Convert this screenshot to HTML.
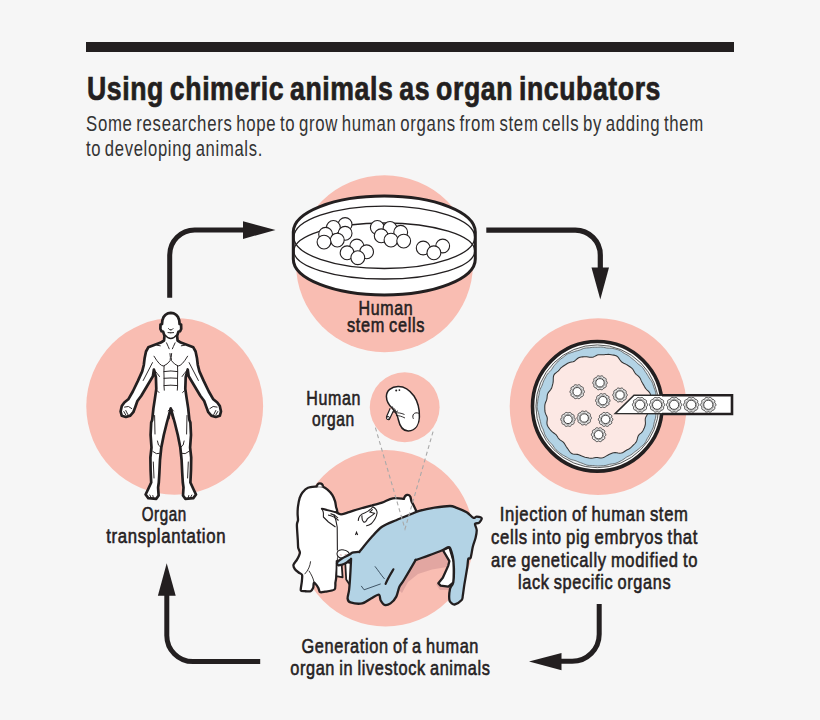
<!DOCTYPE html>
<html><head><meta charset="utf-8"><style>
html,body{margin:0;padding:0;background:#f6f6f6;width:820px;height:720px;overflow:hidden}
svg{display:block}
</style></head><body>
<svg width="820" height="720" viewBox="0 0 820 720"><rect x="86" y="42" width="648" height="10" fill="#231f20"/>
<text x="87" y="99.5" font-family="Liberation Sans" font-weight="bold" font-size="32.5" letter-spacing="0.7" word-spacing="-2.5" fill="#231f20" stroke="#231f20" stroke-width="0.7" textLength="574" lengthAdjust="spacingAndGlyphs">Using chimeric animals as organ incubators</text>
<text x="86" y="130.8" font-family="Liberation Sans" font-size="21.5" letter-spacing="0.9" word-spacing="-2.2" fill="#333" textLength="618" lengthAdjust="spacingAndGlyphs">Some researchers hope to grow human organs from stem cells by adding them</text>
<text x="86" y="156.4" font-family="Liberation Sans" font-size="21.5" letter-spacing="0.9" word-spacing="-2.2" fill="#333" textLength="177" lengthAdjust="spacingAndGlyphs">to developing animals.</text>
<circle cx="384.5" cy="263.7" r="88.5" fill="#f9bdb2"/>
<circle cx="174.7" cy="406.3" r="88.4" fill="#f9bdb2"/>
<circle cx="598.1" cy="406.6" r="88.4" fill="#f9bdb2"/>
<circle cx="404.7" cy="407.25" r="34.9" fill="#f9bdb2"/>
<circle cx="385.5" cy="538.3" r="88.2" fill="#f9bdb2"/>
<path d="M169.7,297.7 V254.9 A25,25 0 0 1 194.7,229.9 H246" fill="none" stroke="#231f20" stroke-width="5"/>
<path d="M243,221.3 L275.5,230 L243,238.9Z" fill="#231f20"/>
<path d="M486.3,230.1 H575.3 A25,25 0 0 1 600.3,255.1 V270" fill="none" stroke="#231f20" stroke-width="5.2"/>
<path d="M591.5,267.6 L609,267.6 L600.3,299.6Z" fill="#231f20"/>
<path d="M599.2,603.9 V634.3 A27,27 0 0 1 572.2,661.3 H558" fill="none" stroke="#231f20" stroke-width="5"/>
<path d="M561.5,652.9 L561.5,670.2 L529,661.5Z" fill="#231f20"/>
<path d="M260.2,661.6 H193 A26.2,26.2 0 0 1 166.8,635.4 V592" fill="none" stroke="#231f20" stroke-width="5"/>
<path d="M157.9,595.7 L175.7,595.7 L166.7,563.3Z" fill="#231f20"/>
<path d="M293.3,232 A91,36 0 0 1 475.3,232 V259 A91,36 0 0 1 293.3,259Z" fill="#fff" stroke="#231f20" stroke-width="3"/>
<ellipse cx="384.3" cy="237.3" rx="90.4" ry="31.2" fill="none" stroke="#231f20" stroke-width="1.3"/>
<ellipse cx="384.3" cy="251" rx="90.4" ry="28" fill="none" stroke="#231f20" stroke-width="1.3"/>
<circle cx="345.1" cy="224.5" r="6.9" fill="#fff" stroke="#231f20" stroke-width="1.1"/>
<circle cx="333.4" cy="227.4" r="6.9" fill="#fff" stroke="#231f20" stroke-width="1.1"/>
<circle cx="345.1" cy="233.3" r="6.9" fill="#fff" stroke="#231f20" stroke-width="1.1"/>
<circle cx="325.6" cy="234.3" r="6.9" fill="#fff" stroke="#231f20" stroke-width="1.1"/>
<circle cx="337.3" cy="240.1" r="6.9" fill="#fff" stroke="#231f20" stroke-width="1.1"/>
<circle cx="324" cy="242.1" r="6.9" fill="#fff" stroke="#231f20" stroke-width="1.1"/>
<circle cx="356.8" cy="246" r="6.9" fill="#fff" stroke="#231f20" stroke-width="1.1"/>
<circle cx="366.6" cy="251.8" r="6.9" fill="#fff" stroke="#231f20" stroke-width="1.1"/>
<circle cx="347.1" cy="252.8" r="6.9" fill="#fff" stroke="#231f20" stroke-width="1.1"/>
<circle cx="357.8" cy="257.7" r="6.9" fill="#fff" stroke="#231f20" stroke-width="1.1"/>
<circle cx="377.3" cy="227.4" r="6.9" fill="#fff" stroke="#231f20" stroke-width="1.1"/>
<circle cx="390" cy="228.4" r="6.9" fill="#fff" stroke="#231f20" stroke-width="1.1"/>
<circle cx="400.7" cy="232.3" r="6.9" fill="#fff" stroke="#231f20" stroke-width="1.1"/>
<circle cx="381.2" cy="235.8" r="6.9" fill="#fff" stroke="#231f20" stroke-width="1.1"/>
<circle cx="391" cy="240.1" r="6.9" fill="#fff" stroke="#231f20" stroke-width="1.1"/>
<circle cx="403.7" cy="241.1" r="6.9" fill="#fff" stroke="#231f20" stroke-width="1.1"/>
<circle cx="442.7" cy="246" r="6.9" fill="#fff" stroke="#231f20" stroke-width="1.1"/>
<circle cx="423.2" cy="248" r="6.9" fill="#fff" stroke="#231f20" stroke-width="1.1"/>
<circle cx="433.9" cy="252.8" r="6.9" fill="#fff" stroke="#231f20" stroke-width="1.1"/>
<text x="358.6" y="314.6" font-family="Liberation Sans" font-size="19.9" letter-spacing="0.8" word-spacing="-1.2" fill="#252122" stroke="#252122" stroke-width="0.6" textLength="54.7" lengthAdjust="spacingAndGlyphs">Human</text>
<text x="347" y="331.6" font-family="Liberation Sans" font-size="19.9" letter-spacing="0.8" word-spacing="-1.2" fill="#252122" stroke="#252122" stroke-width="0.6" textLength="78.0" lengthAdjust="spacingAndGlyphs">stem cells</text>
<text x="141.7" y="520.5" font-family="Liberation Sans" font-size="19.9" letter-spacing="0.8" word-spacing="-1.2" fill="#252122" stroke="#252122" stroke-width="0.6" textLength="45.2" lengthAdjust="spacingAndGlyphs">Organ</text>
<text x="106.3" y="543" font-family="Liberation Sans" font-size="19.9" letter-spacing="0.8" word-spacing="-1.2" fill="#252122" stroke="#252122" stroke-width="0.6" textLength="119.9" lengthAdjust="spacingAndGlyphs">transplantation</text>
<text x="306.3" y="404.8" font-family="Liberation Sans" font-size="19.9" letter-spacing="0.8" word-spacing="-1.2" fill="#252122" stroke="#252122" stroke-width="0.6" textLength="54.8" lengthAdjust="spacingAndGlyphs">Human</text>
<text x="311.9" y="425.9" font-family="Liberation Sans" font-size="19.9" letter-spacing="0.8" word-spacing="-1.2" fill="#252122" stroke="#252122" stroke-width="0.6" textLength="42.9" lengthAdjust="spacingAndGlyphs">organ</text>
<text x="499.7" y="520.8" font-family="Liberation Sans" font-size="20.4" letter-spacing="0.8" word-spacing="-1.2" fill="#252122" stroke="#252122" stroke-width="0.6" textLength="188.9" lengthAdjust="spacingAndGlyphs">Injection of human stem</text>
<text x="491.1" y="543.6" font-family="Liberation Sans" font-size="20.4" letter-spacing="0.8" word-spacing="-1.2" fill="#252122" stroke="#252122" stroke-width="0.6" textLength="207.0" lengthAdjust="spacingAndGlyphs">cells into pig embryos that</text>
<text x="491.1" y="566.5" font-family="Liberation Sans" font-size="20.4" letter-spacing="0.8" word-spacing="-1.2" fill="#252122" stroke="#252122" stroke-width="0.6" textLength="207.0" lengthAdjust="spacingAndGlyphs">are genetically modified to</text>
<text x="518" y="589.3" font-family="Liberation Sans" font-size="20.4" letter-spacing="0.8" word-spacing="-1.2" fill="#252122" stroke="#252122" stroke-width="0.6" textLength="153.2" lengthAdjust="spacingAndGlyphs">lack specific organs</text>
<text x="301.5" y="652.6" font-family="Liberation Sans" font-size="20.4" letter-spacing="0.8" word-spacing="-1.2" fill="#252122" stroke="#252122" stroke-width="0.6" textLength="177.6" lengthAdjust="spacingAndGlyphs">Generation of a human</text>
<text x="290.2" y="674.6" font-family="Liberation Sans" font-size="20.4" letter-spacing="0.8" word-spacing="-1.2" fill="#252122" stroke="#252122" stroke-width="0.6" textLength="200.4" lengthAdjust="spacingAndGlyphs">organ in livestock animals</text>
<circle cx="597.3" cy="406.3" r="64.8" fill="#fff" stroke="#231f20" stroke-width="3.6"/>
<circle cx="597.3" cy="406.3" r="61.4" fill="#e9eef1" stroke="#333" stroke-width="0.8"/>
<path d="M655.95,406.30 L656.07,407.84 L656.16,409.38 L656.13,410.93 L656.01,412.47 L655.90,414.01 L655.81,415.57 L655.65,417.11 L655.34,418.64 L654.89,420.13 L654.42,421.60 L654.06,423.11 L653.80,424.66 L653.52,426.21 L653.07,427.71 L652.42,429.13 L651.68,430.51 L650.97,431.90 L650.29,433.30 L649.59,434.69 L648.80,436.03 L647.97,437.35 L647.18,438.69 L646.48,440.10 L645.81,441.55 L645.03,442.92 L644.04,444.15 L642.88,445.23 L641.66,446.25 L640.49,447.28 L639.34,448.34 L638.17,449.36 L636.92,450.30 L635.64,451.20 L634.41,452.12 L633.22,453.11 L632.03,454.10 L630.76,454.98 L629.38,455.70 L627.97,456.35 L626.61,457.07 L625.33,457.92 L624.08,458.87 L622.80,459.77 L621.46,460.56 L620.07,461.27 L618.67,461.97 L617.26,462.66 L615.80,463.24 L614.28,463.63 L612.72,463.85 L611.16,464.03 L609.63,464.32 L608.13,464.75 L606.63,465.20 L605.10,465.53 L603.54,465.70 L601.98,465.79 L600.42,465.89 L598.86,466.00 L597.30,466.03 L595.74,465.92 L594.19,465.70 L592.64,465.52 L591.08,465.46 L589.51,465.45 L587.95,465.32 L586.43,464.96 L584.95,464.41 L583.50,463.79 L582.05,463.22 L580.59,462.71 L579.14,462.18 L577.72,461.58 L576.31,460.99 L574.85,460.49 L573.34,460.12 L571.80,459.76 L570.32,459.25 L568.93,458.54 L567.61,457.72 L566.29,456.90 L564.92,456.16 L563.53,455.44 L562.17,454.65 L560.90,453.74 L559.67,452.77 L558.44,451.80 L557.19,450.84 L556.02,449.80 L554.98,448.62 L554.09,447.31 L553.22,445.99 L552.28,444.75 L551.21,443.62 L550.11,442.51 L549.09,441.33 L548.17,440.06 L547.32,438.76 L546.46,437.45 L545.63,436.13 L544.91,434.74 L544.36,433.27 L543.93,431.76 L543.47,430.27 L542.89,428.84 L542.20,427.45 L541.57,426.04 L541.09,424.57 L540.74,423.05 L540.43,421.54 L540.06,420.04 L539.65,418.55 L539.29,417.05 L539.01,415.53 L538.75,414.01 L538.40,412.49 L537.92,410.97 L537.46,409.44 L537.17,407.87 L537.15,406.30 L537.32,404.73 L537.53,403.17 L537.69,401.61 L537.86,400.05 L538.11,398.51 L538.47,396.98 L538.84,395.47 L539.14,393.94 L539.37,392.39 L539.67,390.86 L540.15,389.37 L540.82,387.95 L541.53,386.55 L542.16,385.13 L542.66,383.67 L543.16,382.19 L543.74,380.75 L544.44,379.37 L545.18,378.00 L545.92,376.63 L546.67,375.28 L547.54,373.99 L548.58,372.81 L549.70,371.72 L550.78,370.60 L551.71,369.38 L552.54,368.07 L553.38,366.75 L554.31,365.51 L555.34,364.34 L556.39,363.19 L557.43,362.02 L558.49,360.86 L559.64,359.80 L560.90,358.86 L562.20,357.99 L563.47,357.07 L564.68,356.06 L565.90,355.05 L567.21,354.18 L568.64,353.52 L570.15,353.02 L571.66,352.54 L573.14,352.03 L574.61,351.51 L576.09,351.06 L577.60,350.67 L579.09,350.26 L580.54,349.73 L581.97,349.10 L583.43,348.51 L584.93,348.12 L586.48,347.94 L588.04,347.87 L589.59,347.75 L591.13,347.55 L592.66,347.35 L594.21,347.25 L595.75,347.24 L597.30,347.23 L598.85,347.16 L600.40,347.07 L601.96,347.09 L603.50,347.31 L605.02,347.66 L606.54,347.98 L608.08,348.15 L609.65,348.20 L611.23,348.27 L612.79,348.47 L614.33,348.80 L615.86,349.19 L617.38,349.59 L618.88,350.08 L620.31,350.74 L621.66,351.59 L622.95,352.53 L624.25,353.40 L625.62,354.14 L627.01,354.83 L628.36,355.61 L629.62,356.53 L630.81,357.54 L632.00,358.53 L633.22,359.49 L634.44,360.44 L635.59,361.47 L636.69,362.56 L637.79,363.63 L638.99,364.61 L640.26,365.53 L641.51,366.49 L642.61,367.60 L643.54,368.86 L644.36,370.19 L645.20,371.50 L646.08,372.77 L646.95,374.06 L647.76,375.38 L648.52,376.73 L649.32,378.06 L650.21,379.34 L651.16,380.61 L652.00,381.95 L652.64,383.38 L653.11,384.87 L653.55,386.38 L654.07,387.85 L654.65,389.31 L655.18,390.79 L655.58,392.31 L655.85,393.85 L656.10,395.40 L656.35,396.95 L656.54,398.50 L656.55,400.07 L656.36,401.65 L656.09,403.22 L655.93,404.76 L655.95,406.30Z" fill="#b3d3e5" stroke="#444" stroke-width="0.7"/>
<path d="M648.76,406.30 L648.42,407.64 L648.19,408.97 L648.07,410.30 L647.98,411.63 L647.77,412.95 L647.35,414.23 L646.73,415.46 L646.05,416.66 L645.52,417.88 L645.25,419.15 L645.25,420.50 L645.37,421.92 L645.43,423.34 L645.31,424.73 L644.99,426.05 L644.53,427.33 L644.02,428.58 L643.45,429.82 L642.78,430.99 L641.94,432.07 L640.94,433.04 L639.88,433.95 L638.92,434.90 L638.19,436.01 L637.70,437.30 L637.36,438.74 L636.98,440.19 L636.43,441.54 L635.67,442.72 L634.75,443.75 L633.77,444.73 L632.79,445.71 L631.81,446.71 L630.78,447.65 L629.66,448.47 L628.45,449.18 L627.21,449.82 L626.00,450.49 L624.84,451.24 L623.69,452.01 L622.48,452.68 L621.14,453.08 L619.65,453.16 L618.08,452.98 L616.53,452.73 L615.08,452.61 L613.74,452.73 L612.50,453.08 L611.30,453.56 L610.10,454.08 L608.90,454.60 L607.69,455.18 L606.49,455.86 L605.27,456.62 L604.02,457.33 L602.72,457.83 L601.37,458.02 L600.01,457.92 L598.65,457.69 L597.30,457.52 L595.96,457.56 L594.60,457.80 L593.22,458.09 L591.84,458.28 L590.46,458.26 L589.10,458.04 L587.77,457.73 L586.43,457.43 L585.10,457.14 L583.77,456.80 L582.47,456.35 L581.22,455.78 L579.99,455.18 L578.73,454.68 L577.38,454.39 L575.93,454.30 L574.43,454.24 L572.98,454.02 L571.68,453.49 L570.56,452.61 L569.61,451.48 L568.75,450.26 L567.92,449.04 L567.10,447.87 L566.30,446.70 L565.56,445.50 L564.85,444.29 L564.12,443.15 L563.27,442.15 L562.26,441.34 L561.13,440.62 L560.00,439.88 L559.00,439.01 L558.18,437.97 L557.50,436.84 L556.82,435.71 L556.00,434.69 L554.97,433.79 L553.81,432.95 L552.62,432.10 L551.52,431.16 L550.55,430.12 L549.68,429.01 L548.85,427.87 L548.08,426.69 L547.43,425.44 L547.04,424.10 L546.94,422.66 L547.08,421.17 L547.27,419.70 L547.30,418.30 L547.05,416.98 L546.54,415.71 L545.92,414.44 L545.37,413.14 L545.02,411.79 L544.86,410.43 L544.81,409.05 L544.78,407.68 L544.78,406.30 L544.88,404.93 L545.16,403.57 L545.63,402.23 L546.19,400.93 L546.68,399.64 L546.98,398.33 L547.11,397.00 L547.21,395.65 L547.47,394.34 L548.01,393.09 L548.81,391.94 L549.73,390.84 L550.60,389.76 L551.30,388.64 L551.80,387.45 L552.19,386.21 L552.53,384.95 L552.86,383.65 L553.11,382.31 L553.24,380.86 L553.27,379.32 L553.30,377.72 L553.50,376.20 L554.01,374.85 L554.85,373.73 L555.93,372.80 L557.07,371.94 L558.14,371.04 L559.10,370.05 L560.00,369.00 L560.93,367.98 L561.97,367.06 L563.10,366.25 L564.26,365.50 L565.42,364.75 L566.55,363.98 L567.71,363.25 L568.96,362.66 L570.31,362.25 L571.70,361.96 L573.06,361.65 L574.30,361.16 L575.41,360.41 L576.45,359.48 L577.51,358.52 L578.66,357.74 L579.93,357.24 L581.28,356.98 L582.66,356.88 L584.04,356.83 L585.41,356.80 L586.78,356.82 L588.15,356.95 L589.52,357.16 L590.85,357.33 L592.15,357.30 L593.42,356.98 L594.68,356.38 L595.97,355.69 L597.30,355.11 L598.65,354.78 L600.00,354.71 L601.36,354.77 L602.71,354.80 L604.09,354.72 L605.50,354.55 L606.92,354.40 L608.34,354.37 L609.74,354.48 L611.13,354.68 L612.53,354.90 L613.93,355.12 L615.31,355.44 L616.61,356.00 L617.77,356.89 L618.77,358.09 L619.65,359.43 L620.53,360.72 L621.48,361.77 L622.55,362.56 L623.73,363.17 L624.94,363.74 L626.12,364.36 L627.26,365.07 L628.38,365.80 L629.51,366.53 L630.65,367.25 L631.73,368.06 L632.68,369.01 L633.45,370.15 L634.10,371.38 L634.73,372.60 L635.50,373.68 L636.44,374.60 L637.53,375.43 L638.60,376.29 L639.53,377.28 L640.25,378.41 L640.80,379.64 L641.31,380.89 L641.88,382.09 L642.54,383.25 L643.23,384.39 L643.91,385.55 L644.56,386.73 L645.25,387.89 L646.10,389.02 L647.14,390.10 L648.31,391.19 L649.39,392.34 L650.19,393.60 L650.58,394.98 L650.57,396.43 L650.31,397.90 L650.01,399.36 L649.76,400.79 L649.58,402.19 L649.38,403.57 L649.11,404.94 L648.76,406.30Z" fill="#fce8e4" stroke="#333" stroke-width="1.05"/>
<path d="M607.20,382.80 L607.11,383.36 L606.85,383.89 L606.46,384.35 L605.99,384.75 L606.14,385.34 L606.18,385.95 L606.08,386.53 L605.82,387.03 L605.42,387.43 L604.90,387.70 L604.32,387.85 L603.70,387.90 L603.47,388.47 L603.15,388.98 L602.73,389.39 L602.22,389.65 L601.66,389.73 L601.09,389.65 L600.52,389.42 L600.00,389.10 L599.48,389.42 L598.91,389.65 L598.34,389.73 L597.78,389.65 L597.27,389.39 L596.85,388.98 L596.53,388.47 L596.30,387.90 L595.68,387.85 L595.10,387.70 L594.58,387.43 L594.18,387.03 L593.92,386.53 L593.82,385.95 L593.86,385.34 L594.01,384.75 L593.54,384.35 L593.15,383.89 L592.89,383.36 L592.80,382.80 L592.89,382.24 L593.15,381.71 L593.54,381.25 L594.01,380.85 L593.86,380.26 L593.82,379.65 L593.92,379.07 L594.18,378.57 L594.58,378.17 L595.10,377.90 L595.68,377.75 L596.30,377.70 L596.53,377.13 L596.85,376.62 L597.27,376.21 L597.78,375.95 L598.34,375.87 L598.91,375.95 L599.48,376.18 L600.00,376.50 L600.52,376.18 L601.09,375.95 L601.66,375.87 L602.22,375.95 L602.73,376.21 L603.15,376.62 L603.47,377.13 L603.70,377.70 L604.32,377.75 L604.90,377.90 L605.42,378.17 L605.82,378.57 L606.08,379.07 L606.18,379.65 L606.14,380.26 L605.99,380.85 L606.46,381.25 L606.85,381.71 L607.11,382.24 L607.20,382.80Z" fill="#f0f0f0" stroke="#3a3a3a" stroke-width="0.95"/><circle cx="600" cy="382.8" r="5.10" fill="none" stroke="#777" stroke-width="0.6"/><circle cx="600" cy="382.8" r="4.20" fill="#fff" stroke="#3a3a3a" stroke-width="0.95"/>
<path d="M584.40,391.70 L584.31,392.26 L584.05,392.79 L583.66,393.25 L583.19,393.65 L583.34,394.24 L583.38,394.85 L583.28,395.43 L583.02,395.93 L582.62,396.33 L582.10,396.60 L581.52,396.75 L580.90,396.80 L580.67,397.37 L580.35,397.88 L579.93,398.29 L579.42,398.55 L578.86,398.63 L578.29,398.55 L577.72,398.32 L577.20,398.00 L576.68,398.32 L576.11,398.55 L575.54,398.63 L574.98,398.55 L574.47,398.29 L574.05,397.88 L573.73,397.37 L573.50,396.80 L572.88,396.75 L572.30,396.60 L571.78,396.33 L571.38,395.93 L571.12,395.43 L571.02,394.85 L571.06,394.24 L571.21,393.65 L570.74,393.25 L570.35,392.79 L570.09,392.26 L570.00,391.70 L570.09,391.14 L570.35,390.61 L570.74,390.15 L571.21,389.75 L571.06,389.16 L571.02,388.55 L571.12,387.97 L571.38,387.47 L571.78,387.07 L572.30,386.80 L572.88,386.65 L573.50,386.60 L573.73,386.03 L574.05,385.52 L574.47,385.11 L574.98,384.85 L575.54,384.77 L576.11,384.85 L576.68,385.08 L577.20,385.40 L577.72,385.08 L578.29,384.85 L578.86,384.77 L579.42,384.85 L579.93,385.11 L580.35,385.52 L580.67,386.03 L580.90,386.60 L581.52,386.65 L582.10,386.80 L582.62,387.07 L583.02,387.47 L583.28,387.97 L583.38,388.55 L583.34,389.16 L583.19,389.75 L583.66,390.15 L584.05,390.61 L584.31,391.14 L584.40,391.70Z" fill="#f0f0f0" stroke="#3a3a3a" stroke-width="0.95"/><circle cx="577.2" cy="391.7" r="5.10" fill="none" stroke="#777" stroke-width="0.6"/><circle cx="577.2" cy="391.7" r="4.20" fill="#fff" stroke="#3a3a3a" stroke-width="0.95"/>
<path d="M627.20,395.00 L627.11,395.56 L626.85,396.09 L626.46,396.55 L625.99,396.95 L626.14,397.54 L626.18,398.15 L626.08,398.73 L625.82,399.23 L625.42,399.63 L624.90,399.90 L624.32,400.05 L623.70,400.10 L623.47,400.67 L623.15,401.18 L622.73,401.59 L622.22,401.85 L621.66,401.93 L621.09,401.85 L620.52,401.62 L620.00,401.30 L619.48,401.62 L618.91,401.85 L618.34,401.93 L617.78,401.85 L617.27,401.59 L616.85,401.18 L616.53,400.67 L616.30,400.10 L615.68,400.05 L615.10,399.90 L614.58,399.63 L614.18,399.23 L613.92,398.73 L613.82,398.15 L613.86,397.54 L614.01,396.95 L613.54,396.55 L613.15,396.09 L612.89,395.56 L612.80,395.00 L612.89,394.44 L613.15,393.91 L613.54,393.45 L614.01,393.05 L613.86,392.46 L613.82,391.85 L613.92,391.27 L614.18,390.77 L614.58,390.37 L615.10,390.10 L615.68,389.95 L616.30,389.90 L616.53,389.33 L616.85,388.82 L617.27,388.41 L617.78,388.15 L618.34,388.07 L618.91,388.15 L619.48,388.38 L620.00,388.70 L620.52,388.38 L621.09,388.15 L621.66,388.07 L622.22,388.15 L622.73,388.41 L623.15,388.82 L623.47,389.33 L623.70,389.90 L624.32,389.95 L624.90,390.10 L625.42,390.37 L625.82,390.77 L626.08,391.27 L626.18,391.85 L626.14,392.46 L625.99,393.05 L626.46,393.45 L626.85,393.91 L627.11,394.44 L627.20,395.00Z" fill="#f0f0f0" stroke="#3a3a3a" stroke-width="0.95"/><circle cx="620" cy="395" r="5.10" fill="none" stroke="#777" stroke-width="0.6"/><circle cx="620" cy="395" r="4.20" fill="#fff" stroke="#3a3a3a" stroke-width="0.95"/>
<path d="M610.00,400.60 L609.91,401.16 L609.65,401.69 L609.26,402.15 L608.79,402.55 L608.94,403.14 L608.98,403.75 L608.88,404.33 L608.62,404.83 L608.22,405.23 L607.70,405.50 L607.12,405.65 L606.50,405.70 L606.27,406.27 L605.95,406.78 L605.53,407.19 L605.02,407.45 L604.46,407.53 L603.89,407.45 L603.32,407.22 L602.80,406.90 L602.28,407.22 L601.71,407.45 L601.14,407.53 L600.58,407.45 L600.07,407.19 L599.65,406.78 L599.33,406.27 L599.10,405.70 L598.48,405.65 L597.90,405.50 L597.38,405.23 L596.98,404.83 L596.72,404.33 L596.62,403.75 L596.66,403.14 L596.81,402.55 L596.34,402.15 L595.95,401.69 L595.69,401.16 L595.60,400.60 L595.69,400.04 L595.95,399.51 L596.34,399.05 L596.81,398.65 L596.66,398.06 L596.62,397.45 L596.72,396.87 L596.98,396.37 L597.38,395.97 L597.90,395.70 L598.48,395.55 L599.10,395.50 L599.33,394.93 L599.65,394.42 L600.07,394.01 L600.58,393.75 L601.14,393.67 L601.71,393.75 L602.28,393.98 L602.80,394.30 L603.32,393.98 L603.89,393.75 L604.46,393.67 L605.02,393.75 L605.53,394.01 L605.95,394.42 L606.27,394.93 L606.50,395.50 L607.12,395.55 L607.70,395.70 L608.22,395.97 L608.62,396.37 L608.88,396.87 L608.98,397.45 L608.94,398.06 L608.79,398.65 L609.26,399.05 L609.65,399.51 L609.91,400.04 L610.00,400.60Z" fill="#f0f0f0" stroke="#3a3a3a" stroke-width="0.95"/><circle cx="602.8" cy="400.6" r="5.10" fill="none" stroke="#777" stroke-width="0.6"/><circle cx="602.8" cy="400.6" r="4.20" fill="#fff" stroke="#3a3a3a" stroke-width="0.95"/>
<path d="M575.20,419.40 L575.11,419.96 L574.85,420.49 L574.46,420.95 L573.99,421.35 L574.14,421.94 L574.18,422.55 L574.08,423.13 L573.82,423.63 L573.42,424.03 L572.90,424.30 L572.32,424.45 L571.70,424.50 L571.47,425.07 L571.15,425.58 L570.73,425.99 L570.22,426.25 L569.66,426.33 L569.09,426.25 L568.52,426.02 L568.00,425.70 L567.48,426.02 L566.91,426.25 L566.34,426.33 L565.78,426.25 L565.27,425.99 L564.85,425.58 L564.53,425.07 L564.30,424.50 L563.68,424.45 L563.10,424.30 L562.58,424.03 L562.18,423.63 L561.92,423.13 L561.82,422.55 L561.86,421.94 L562.01,421.35 L561.54,420.95 L561.15,420.49 L560.89,419.96 L560.80,419.40 L560.89,418.84 L561.15,418.31 L561.54,417.85 L562.01,417.45 L561.86,416.86 L561.82,416.25 L561.92,415.67 L562.18,415.17 L562.58,414.77 L563.10,414.50 L563.68,414.35 L564.30,414.30 L564.53,413.73 L564.85,413.22 L565.27,412.81 L565.78,412.55 L566.34,412.47 L566.91,412.55 L567.48,412.78 L568.00,413.10 L568.52,412.78 L569.09,412.55 L569.66,412.47 L570.22,412.55 L570.73,412.81 L571.15,413.22 L571.47,413.73 L571.70,414.30 L572.32,414.35 L572.90,414.50 L573.42,414.77 L573.82,415.17 L574.08,415.67 L574.18,416.25 L574.14,416.86 L573.99,417.45 L574.46,417.85 L574.85,418.31 L575.11,418.84 L575.20,419.40Z" fill="#f0f0f0" stroke="#3a3a3a" stroke-width="0.95"/><circle cx="568" cy="419.4" r="5.10" fill="none" stroke="#777" stroke-width="0.6"/><circle cx="568" cy="419.4" r="4.20" fill="#fff" stroke="#3a3a3a" stroke-width="0.95"/>
<path d="M591.40,418.00 L591.31,418.56 L591.05,419.09 L590.66,419.55 L590.19,419.95 L590.34,420.54 L590.38,421.15 L590.28,421.73 L590.02,422.23 L589.62,422.63 L589.10,422.90 L588.52,423.05 L587.90,423.10 L587.67,423.67 L587.35,424.18 L586.93,424.59 L586.42,424.85 L585.86,424.93 L585.29,424.85 L584.72,424.62 L584.20,424.30 L583.68,424.62 L583.11,424.85 L582.54,424.93 L581.98,424.85 L581.47,424.59 L581.05,424.18 L580.73,423.67 L580.50,423.10 L579.88,423.05 L579.30,422.90 L578.78,422.63 L578.38,422.23 L578.12,421.73 L578.02,421.15 L578.06,420.54 L578.21,419.95 L577.74,419.55 L577.35,419.09 L577.09,418.56 L577.00,418.00 L577.09,417.44 L577.35,416.91 L577.74,416.45 L578.21,416.05 L578.06,415.46 L578.02,414.85 L578.12,414.27 L578.38,413.77 L578.78,413.37 L579.30,413.10 L579.88,412.95 L580.50,412.90 L580.73,412.33 L581.05,411.82 L581.47,411.41 L581.98,411.15 L582.54,411.07 L583.11,411.15 L583.68,411.38 L584.20,411.70 L584.72,411.38 L585.29,411.15 L585.86,411.07 L586.42,411.15 L586.93,411.41 L587.35,411.82 L587.67,412.33 L587.90,412.90 L588.52,412.95 L589.10,413.10 L589.62,413.37 L590.02,413.77 L590.28,414.27 L590.38,414.85 L590.34,415.46 L590.19,416.05 L590.66,416.45 L591.05,416.91 L591.31,417.44 L591.40,418.00Z" fill="#f0f0f0" stroke="#3a3a3a" stroke-width="0.95"/><circle cx="584.2" cy="418" r="5.10" fill="none" stroke="#777" stroke-width="0.6"/><circle cx="584.2" cy="418" r="4.20" fill="#fff" stroke="#3a3a3a" stroke-width="0.95"/>
<path d="M612.80,419.40 L612.71,419.96 L612.45,420.49 L612.06,420.95 L611.59,421.35 L611.74,421.94 L611.78,422.55 L611.68,423.13 L611.42,423.63 L611.02,424.03 L610.50,424.30 L609.92,424.45 L609.30,424.50 L609.07,425.07 L608.75,425.58 L608.33,425.99 L607.82,426.25 L607.26,426.33 L606.69,426.25 L606.12,426.02 L605.60,425.70 L605.08,426.02 L604.51,426.25 L603.94,426.33 L603.38,426.25 L602.87,425.99 L602.45,425.58 L602.13,425.07 L601.90,424.50 L601.28,424.45 L600.70,424.30 L600.18,424.03 L599.78,423.63 L599.52,423.13 L599.42,422.55 L599.46,421.94 L599.61,421.35 L599.14,420.95 L598.75,420.49 L598.49,419.96 L598.40,419.40 L598.49,418.84 L598.75,418.31 L599.14,417.85 L599.61,417.45 L599.46,416.86 L599.42,416.25 L599.52,415.67 L599.78,415.17 L600.18,414.77 L600.70,414.50 L601.28,414.35 L601.90,414.30 L602.13,413.73 L602.45,413.22 L602.87,412.81 L603.38,412.55 L603.94,412.47 L604.51,412.55 L605.08,412.78 L605.60,413.10 L606.12,412.78 L606.69,412.55 L607.26,412.47 L607.82,412.55 L608.33,412.81 L608.75,413.22 L609.07,413.73 L609.30,414.30 L609.92,414.35 L610.50,414.50 L611.02,414.77 L611.42,415.17 L611.68,415.67 L611.78,416.25 L611.74,416.86 L611.59,417.45 L612.06,417.85 L612.45,418.31 L612.71,418.84 L612.80,419.40Z" fill="#f0f0f0" stroke="#3a3a3a" stroke-width="0.95"/><circle cx="605.6" cy="419.4" r="5.10" fill="none" stroke="#777" stroke-width="0.6"/><circle cx="605.6" cy="419.4" r="4.20" fill="#fff" stroke="#3a3a3a" stroke-width="0.95"/>
<path d="M605.80,434.70 L605.71,435.26 L605.45,435.79 L605.06,436.25 L604.59,436.65 L604.74,437.24 L604.78,437.85 L604.68,438.43 L604.42,438.93 L604.02,439.33 L603.50,439.60 L602.92,439.75 L602.30,439.80 L602.07,440.37 L601.75,440.88 L601.33,441.29 L600.82,441.55 L600.26,441.63 L599.69,441.55 L599.12,441.32 L598.60,441.00 L598.08,441.32 L597.51,441.55 L596.94,441.63 L596.38,441.55 L595.87,441.29 L595.45,440.88 L595.13,440.37 L594.90,439.80 L594.28,439.75 L593.70,439.60 L593.18,439.33 L592.78,438.93 L592.52,438.43 L592.42,437.85 L592.46,437.24 L592.61,436.65 L592.14,436.25 L591.75,435.79 L591.49,435.26 L591.40,434.70 L591.49,434.14 L591.75,433.61 L592.14,433.15 L592.61,432.75 L592.46,432.16 L592.42,431.55 L592.52,430.97 L592.78,430.47 L593.18,430.07 L593.70,429.80 L594.28,429.65 L594.90,429.60 L595.13,429.03 L595.45,428.52 L595.87,428.11 L596.38,427.85 L596.94,427.77 L597.51,427.85 L598.08,428.08 L598.60,428.40 L599.12,428.08 L599.69,427.85 L600.26,427.77 L600.82,427.85 L601.33,428.11 L601.75,428.52 L602.07,429.03 L602.30,429.60 L602.92,429.65 L603.50,429.80 L604.02,430.07 L604.42,430.47 L604.68,430.97 L604.78,431.55 L604.74,432.16 L604.59,432.75 L605.06,433.15 L605.45,433.61 L605.71,434.14 L605.80,434.70Z" fill="#f0f0f0" stroke="#3a3a3a" stroke-width="0.95"/><circle cx="598.6" cy="434.7" r="5.10" fill="none" stroke="#777" stroke-width="0.6"/><circle cx="598.6" cy="434.7" r="4.20" fill="#fff" stroke="#3a3a3a" stroke-width="0.95"/>
<path d="M615.2,413.6 L634,395.2 H732 V414 Z" fill="#fff" stroke="#2e2e2e" stroke-width="1.5" stroke-linejoin="miter"/>
<path d="M662,395.2 H732 V414 H662" fill="none" stroke="#231f20" stroke-width="2.6"/>
<path d="M647.60,404.80 L647.51,405.39 L647.25,405.95 L646.85,406.44 L646.37,406.87 L646.51,407.50 L646.54,408.13 L646.42,408.74 L646.15,409.27 L645.73,409.69 L645.19,409.99 L644.57,410.16 L643.94,410.22 L643.68,410.81 L643.33,411.34 L642.88,411.76 L642.35,412.03 L641.76,412.12 L641.15,412.05 L640.55,411.82 L640.00,411.50 L639.45,411.82 L638.85,412.05 L638.24,412.12 L637.65,412.03 L637.12,411.76 L636.67,411.34 L636.32,410.81 L636.06,410.22 L635.43,410.16 L634.81,409.99 L634.27,409.69 L633.85,409.27 L633.58,408.74 L633.46,408.13 L633.49,407.50 L633.63,406.87 L633.15,406.44 L632.75,405.95 L632.49,405.39 L632.40,404.80 L632.49,404.21 L632.75,403.65 L633.15,403.16 L633.63,402.73 L633.49,402.10 L633.46,401.47 L633.58,400.86 L633.85,400.33 L634.27,399.91 L634.81,399.61 L635.43,399.44 L636.06,399.38 L636.32,398.79 L636.67,398.26 L637.12,397.84 L637.65,397.57 L638.24,397.48 L638.85,397.55 L639.45,397.78 L640.00,398.10 L640.55,397.78 L641.15,397.55 L641.76,397.48 L642.35,397.57 L642.88,397.84 L643.33,398.26 L643.68,398.79 L643.94,399.38 L644.57,399.44 L645.19,399.61 L645.73,399.91 L646.15,400.33 L646.42,400.86 L646.54,401.47 L646.51,402.10 L646.37,402.73 L646.85,403.16 L647.25,403.65 L647.51,404.21 L647.60,404.80Z" fill="#f0f0f0" stroke="#3a3a3a" stroke-width="0.95"/><circle cx="640" cy="404.8" r="5.50" fill="none" stroke="#777" stroke-width="0.6"/><circle cx="640" cy="404.8" r="4.60" fill="#fff" stroke="#3a3a3a" stroke-width="0.95"/>
<path d="M664.70,404.80 L664.61,405.39 L664.35,405.95 L663.95,406.44 L663.47,406.87 L663.61,407.50 L663.64,408.13 L663.52,408.74 L663.25,409.27 L662.83,409.69 L662.29,409.99 L661.67,410.16 L661.04,410.22 L660.78,410.81 L660.43,411.34 L659.98,411.76 L659.45,412.03 L658.86,412.12 L658.25,412.05 L657.65,411.82 L657.10,411.50 L656.55,411.82 L655.95,412.05 L655.34,412.12 L654.75,412.03 L654.22,411.76 L653.77,411.34 L653.42,410.81 L653.16,410.22 L652.53,410.16 L651.91,409.99 L651.37,409.69 L650.95,409.27 L650.68,408.74 L650.56,408.13 L650.59,407.50 L650.73,406.87 L650.25,406.44 L649.85,405.95 L649.59,405.39 L649.50,404.80 L649.59,404.21 L649.85,403.65 L650.25,403.16 L650.73,402.73 L650.59,402.10 L650.56,401.47 L650.68,400.86 L650.95,400.33 L651.37,399.91 L651.91,399.61 L652.53,399.44 L653.16,399.38 L653.42,398.79 L653.77,398.26 L654.22,397.84 L654.75,397.57 L655.34,397.48 L655.95,397.55 L656.55,397.78 L657.10,398.10 L657.65,397.78 L658.25,397.55 L658.86,397.48 L659.45,397.57 L659.98,397.84 L660.43,398.26 L660.78,398.79 L661.04,399.38 L661.67,399.44 L662.29,399.61 L662.83,399.91 L663.25,400.33 L663.52,400.86 L663.64,401.47 L663.61,402.10 L663.47,402.73 L663.95,403.16 L664.35,403.65 L664.61,404.21 L664.70,404.80Z" fill="#f0f0f0" stroke="#3a3a3a" stroke-width="0.95"/><circle cx="657.1" cy="404.8" r="5.50" fill="none" stroke="#777" stroke-width="0.6"/><circle cx="657.1" cy="404.8" r="4.60" fill="#fff" stroke="#3a3a3a" stroke-width="0.95"/>
<path d="M681.70,404.80 L681.61,405.39 L681.35,405.95 L680.95,406.44 L680.47,406.87 L680.61,407.50 L680.64,408.13 L680.52,408.74 L680.25,409.27 L679.83,409.69 L679.29,409.99 L678.67,410.16 L678.04,410.22 L677.78,410.81 L677.43,411.34 L676.98,411.76 L676.45,412.03 L675.86,412.12 L675.25,412.05 L674.65,411.82 L674.10,411.50 L673.55,411.82 L672.95,412.05 L672.34,412.12 L671.75,412.03 L671.22,411.76 L670.77,411.34 L670.42,410.81 L670.16,410.22 L669.53,410.16 L668.91,409.99 L668.37,409.69 L667.95,409.27 L667.68,408.74 L667.56,408.13 L667.59,407.50 L667.73,406.87 L667.25,406.44 L666.85,405.95 L666.59,405.39 L666.50,404.80 L666.59,404.21 L666.85,403.65 L667.25,403.16 L667.73,402.73 L667.59,402.10 L667.56,401.47 L667.68,400.86 L667.95,400.33 L668.37,399.91 L668.91,399.61 L669.53,399.44 L670.16,399.38 L670.42,398.79 L670.77,398.26 L671.22,397.84 L671.75,397.57 L672.34,397.48 L672.95,397.55 L673.55,397.78 L674.10,398.10 L674.65,397.78 L675.25,397.55 L675.86,397.48 L676.45,397.57 L676.98,397.84 L677.43,398.26 L677.78,398.79 L678.04,399.38 L678.67,399.44 L679.29,399.61 L679.83,399.91 L680.25,400.33 L680.52,400.86 L680.64,401.47 L680.61,402.10 L680.47,402.73 L680.95,403.16 L681.35,403.65 L681.61,404.21 L681.70,404.80Z" fill="#f0f0f0" stroke="#3a3a3a" stroke-width="0.95"/><circle cx="674.1" cy="404.8" r="5.50" fill="none" stroke="#777" stroke-width="0.6"/><circle cx="674.1" cy="404.8" r="4.60" fill="#fff" stroke="#3a3a3a" stroke-width="0.95"/>
<path d="M698.80,404.80 L698.71,405.39 L698.45,405.95 L698.05,406.44 L697.57,406.87 L697.71,407.50 L697.74,408.13 L697.62,408.74 L697.35,409.27 L696.93,409.69 L696.39,409.99 L695.77,410.16 L695.14,410.22 L694.88,410.81 L694.53,411.34 L694.08,411.76 L693.55,412.03 L692.96,412.12 L692.35,412.05 L691.75,411.82 L691.20,411.50 L690.65,411.82 L690.05,412.05 L689.44,412.12 L688.85,412.03 L688.32,411.76 L687.87,411.34 L687.52,410.81 L687.26,410.22 L686.63,410.16 L686.01,409.99 L685.47,409.69 L685.05,409.27 L684.78,408.74 L684.66,408.13 L684.69,407.50 L684.83,406.87 L684.35,406.44 L683.95,405.95 L683.69,405.39 L683.60,404.80 L683.69,404.21 L683.95,403.65 L684.35,403.16 L684.83,402.73 L684.69,402.10 L684.66,401.47 L684.78,400.86 L685.05,400.33 L685.47,399.91 L686.01,399.61 L686.63,399.44 L687.26,399.38 L687.52,398.79 L687.87,398.26 L688.32,397.84 L688.85,397.57 L689.44,397.48 L690.05,397.55 L690.65,397.78 L691.20,398.10 L691.75,397.78 L692.35,397.55 L692.96,397.48 L693.55,397.57 L694.08,397.84 L694.53,398.26 L694.88,398.79 L695.14,399.38 L695.77,399.44 L696.39,399.61 L696.93,399.91 L697.35,400.33 L697.62,400.86 L697.74,401.47 L697.71,402.10 L697.57,402.73 L698.05,403.16 L698.45,403.65 L698.71,404.21 L698.80,404.80Z" fill="#f0f0f0" stroke="#3a3a3a" stroke-width="0.95"/><circle cx="691.2" cy="404.8" r="5.50" fill="none" stroke="#777" stroke-width="0.6"/><circle cx="691.2" cy="404.8" r="4.60" fill="#fff" stroke="#3a3a3a" stroke-width="0.95"/>
<path d="M715.90,404.80 L715.81,405.39 L715.55,405.95 L715.15,406.44 L714.67,406.87 L714.81,407.50 L714.84,408.13 L714.72,408.74 L714.45,409.27 L714.03,409.69 L713.49,409.99 L712.87,410.16 L712.24,410.22 L711.98,410.81 L711.63,411.34 L711.18,411.76 L710.65,412.03 L710.06,412.12 L709.45,412.05 L708.85,411.82 L708.30,411.50 L707.75,411.82 L707.15,412.05 L706.54,412.12 L705.95,412.03 L705.42,411.76 L704.97,411.34 L704.62,410.81 L704.36,410.22 L703.73,410.16 L703.11,409.99 L702.57,409.69 L702.15,409.27 L701.88,408.74 L701.76,408.13 L701.79,407.50 L701.93,406.87 L701.45,406.44 L701.05,405.95 L700.79,405.39 L700.70,404.80 L700.79,404.21 L701.05,403.65 L701.45,403.16 L701.93,402.73 L701.79,402.10 L701.76,401.47 L701.88,400.86 L702.15,400.33 L702.57,399.91 L703.11,399.61 L703.73,399.44 L704.36,399.38 L704.62,398.79 L704.97,398.26 L705.42,397.84 L705.95,397.57 L706.54,397.48 L707.15,397.55 L707.75,397.78 L708.30,398.10 L708.85,397.78 L709.45,397.55 L710.06,397.48 L710.65,397.57 L711.18,397.84 L711.63,398.26 L711.98,398.79 L712.24,399.38 L712.87,399.44 L713.49,399.61 L714.03,399.91 L714.45,400.33 L714.72,400.86 L714.84,401.47 L714.81,402.10 L714.67,402.73 L715.15,403.16 L715.55,403.65 L715.81,404.21 L715.90,404.80Z" fill="#f0f0f0" stroke="#3a3a3a" stroke-width="0.95"/><circle cx="708.3" cy="404.8" r="5.50" fill="none" stroke="#777" stroke-width="0.6"/><circle cx="708.3" cy="404.8" r="4.60" fill="#fff" stroke="#3a3a3a" stroke-width="0.95"/>
<path d="M170.8,312.9 L167.8,313.4 L165.4,314.8 L163.5,317.2 L162.4,320.2 L162.0,324.0 L160.5,324.6 L160.4,329.0 L161.6,331.3 L163.2,331.8 L164.5,335.8 L164.0,340.5 L160.8,342.6 L154.2,345.0 L148.3,347.3 L146.0,351.5 L144.6,358.3 L143.8,365.0 L142.2,371.4 L137.8,381.1 L132.8,391.5 L128.3,399.3 L124.3,402.5 L121.8,406.0 L120.6,411.5 L121.8,415.8 L125.8,417.0 L130.3,415.6 L133.3,412.2 L135.3,406.9 L137.4,401.0 L141.3,395.7 L147.1,386.0 L152.9,376.3 L153.9,369.5 L155.9,377.2 L156.3,388.9 L154.9,398.6 L153.4,408.4 L152.2,420.0 L151.2,422.5 L150.6,435.0 L151.5,447.5 L150.4,457.5 L150.6,470.0 L151.2,482.5 L148.0,489.5 L145.6,494.5 L148.3,498.1 L156.3,498.8 L158.6,495.5 L158.1,487.5 L158.8,482.5 L159.4,472.5 L160.0,460.0 L161.3,447.5 L163.8,435.0 L166.9,422.5 L170.8,408.5 L170.8,408.5 L174.7,422.5 L177.8,435.0 L180.3,447.5 L181.6,460.0 L182.2,472.5 L182.8,482.5 L183.5,487.5 L183.0,495.5 L185.3,498.8 L193.3,498.1 L196.0,494.5 L193.6,489.5 L190.4,482.5 L191.0,470.0 L191.2,457.5 L190.1,447.5 L191.0,435.0 L190.4,422.5 L189.4,420.0 L188.2,408.4 L186.7,398.6 L185.3,388.9 L185.7,377.2 L187.7,369.5 L188.7,376.3 L194.5,386.0 L200.3,395.7 L204.2,401.0 L206.3,406.9 L208.3,412.2 L211.3,415.6 L215.8,417.0 L219.8,415.8 L221.0,411.5 L219.8,406.0 L217.3,402.5 L213.3,399.3 L208.8,391.5 L203.8,381.1 L199.4,371.4 L197.8,365.0 L197.0,358.3 L195.6,351.5 L193.3,347.3 L187.4,345.0 L180.8,342.6 L177.6,340.5 L177.1,335.8 L178.4,331.8 L180.0,331.3 L181.2,329.0 L181.1,324.6 L179.6,324.0 L179.2,320.2 L178.1,317.2 L176.2,314.8 L173.8,313.4Z" fill="#fff" stroke="#231f20" stroke-width="2.7" stroke-linejoin="round"/>
<path d="M165.0,334.8 Q167.8,338.4 170.8,338.5 Q173.8,338.4 176.60000000000002,334.8" fill="none" stroke="#231f20" stroke-width="1.3"/>
<path d="M168.50,328.6 Q169.60,330.4 170.80,330 M168.00,332.6 L170.80,332.8 M166.50,342.8 L168.20,346.5 L169.20,348.8 M160.30,345.8 L156.80,345.2 M170.00,353.5 Q170.80,358 170.10,360.7 Q167.30,364.5 163.50,366 Q159.80,366 154.00,356.2 M164.10,365.8 L163.90,372 L164.10,379 L164.00,386 L164.30,390.2 M164.00,371.6 L170.50,371 M164.00,378.3 L170.50,378 M164.10,385.6 L170.50,385.2 M154.30,370 Q157.80,374 159.50,376.5 M143.20,380.5 L152.50,362.6 M157.00,390.5 L159.00,392.5 M168.10,411 L170.60,408.5 M154.60,415.5 L155.00,434 M157.40,441 Q157.60,446 161.00,447.5 M152.80,451.5 Q156.80,455 159.30,453.5 M153.30,462 L154.00,478 M124.50,407 Q128.80,405 131.80,408.5 M123.80,411.5 L125.80,415 M125.80,410.5 L127.80,414.5 M149.80,495 L150.80,497 M152.80,495.5 L153.30,497.5 M173.10,328.6 Q172.00,330.4 170.80,330 M173.60,332.6 L170.80,332.8 M175.10,342.8 L173.40,346.5 L172.40,348.8 M181.30,345.8 L184.80,345.2 M171.60,353.5 Q170.80,358 171.50,360.7 Q174.30,364.5 178.10,366 Q181.80,366 187.60,356.2 M177.50,365.8 L177.70,372 L177.50,379 L177.60,386 L177.30,390.2 M177.60,371.6 L171.10,371 M177.60,378.3 L171.10,378 M177.50,385.6 L171.10,385.2 M187.30,370 Q183.80,374 182.10,376.5 M198.40,380.5 L189.10,362.6 M184.60,390.5 L182.60,392.5 M173.50,411 L171.00,408.5 M187.00,415.5 L186.60,434 M184.20,441 Q184.00,446 180.60,447.5 M188.80,451.5 Q184.80,455 182.30,453.5 M188.30,462 L187.60,478 M217.10,407 Q212.80,405 209.80,408.5 M217.80,411.5 L215.80,415 M215.80,410.5 L213.80,414.5 M191.80,495 L190.80,497 M188.80,495.5 L188.30,497.5" fill="none" stroke="#231f20" stroke-width="0.95" stroke-linecap="round"/>
<path d="M170.8,408 L168.4,419 M170.8,408 L173.20000000000002,419" fill="none" stroke="#231f20" stroke-width="2.2"/>
<clipPath id="bc"><circle cx="385.5" cy="538.3" r="88.2"/></clipPath>
<path clip-path="url(#bc)" d="M399,590 L404,579 L415,561 L428,555.6 L443,550 L450,548 L453,562 L447,567 L432,569.5 L418,574 L408,582 L402,593Z M436,584 L452,583 L455,590 L440,590Z" fill="#e2a6a1"/>
<path d="M320.0,486.0 C320.8,486.0 321.6,486.0 322.6,486.5 C323.6,487.0 326.2,488.5 327.5,489.6 C328.8,490.7 331.4,493.5 332.4,495.1 C333.4,496.7 334.6,499.7 335.1,501.4 C335.6,503.1 335.9,506.3 336.2,507.6 C336.5,508.9 336.8,508.1 337.2,511.1 C337.6,514.1 338.9,523.5 339.0,530.0 C339.1,536.5 338.4,553.7 338.0,560.0 C337.6,566.3 336.5,574.6 336.2,577.6 C335.9,580.6 335.6,581.1 335.4,582.7 C335.2,584.3 335.9,588.3 334.5,589.5 C333.1,590.7 327.0,591.4 325.1,591.7 C323.2,592.0 320.9,592.6 320.0,592.1 C319.1,591.6 319.1,589.1 318.3,587.8 C317.5,586.5 314.7,582.7 314.0,582.7 C313.3,582.7 313.7,586.7 313.2,587.8 C312.7,588.9 311.7,590.7 310.6,591.2 C309.5,591.7 305.9,591.3 304.6,591.2 C303.3,591.1 301.2,591.5 300.8,590.4 C300.4,589.3 301.5,584.8 301.7,582.7 C301.9,580.6 302.5,576.4 302.1,575.0 C301.7,573.6 299.7,573.3 298.7,572.5 C297.7,571.7 295.5,570.0 294.8,569.0 C294.1,568.0 293.2,566.1 293.5,564.8 C293.8,563.5 296.1,561.2 297.0,559.6 C297.9,558.0 299.7,554.4 299.9,552.8 C300.1,551.2 298.5,549.4 298.2,547.7 C297.9,546.0 298.0,543.0 297.8,540.0 C297.6,537.0 296.9,527.7 296.9,525.0 C296.9,522.3 297.9,521.6 298.0,520.1 C298.1,518.6 297.6,515.7 297.6,513.9 C297.6,512.1 297.7,508.4 298.0,506.3 C298.3,504.2 299.1,499.8 299.7,497.9 C300.3,496.0 301.4,493.7 302.5,492.4 C303.6,491.1 306.1,488.6 308.0,487.8 C309.9,487.0 314.8,486.7 316.4,486.5 C318.0,486.3 319.2,486.0 320.0,486.0Z" fill="#fff" stroke="#231f20" stroke-width="2.3" stroke-linejoin="round"/>
<path d="M317,486.8 C316.5,482.5 323,482 323,486.8" fill="#fff" stroke="#231f20" stroke-width="2.3" stroke-linejoin="round"/>
<path d="M310.6,561.3 C310,566 308.5,570 304.6,574.2 M308.9,570.7 C311,574 313.2,578 314,582" fill="none" stroke="#231f20" stroke-width="0.9"/>
<path d="M336.0,512.3 L341.0,514.4 L348.0,512.4 L358.9,509.0 L372.1,505.4 L382.0,502.7 L392.9,498.3 L403.9,498.8 L406.5,495.5 L409.5,495.2 L411.6,501.6 L414.9,507.1 L416.0,510.9 L420.0,515.0 L400.0,530.0 L380.0,545.0 L360.0,558.0 L352.0,560.0 L338.0,561.0 L337.0,550.5 L335.5,527.1Z" fill="#fff" stroke="none"/>
<path d="M336.0,512.3 C336.8,512.6 339.0,514.4 341.0,514.4 C343.0,514.4 345.0,513.3 348.0,512.4 C351.0,511.5 354.9,510.2 358.9,509.0 C362.9,507.8 368.2,506.4 372.1,505.4 C376.0,504.3 378.5,503.9 382.0,502.7 C385.5,501.5 389.2,498.9 392.9,498.3 C396.5,497.7 402.1,498.7 403.9,498.8" fill="none" stroke="#231f20" stroke-width="2.3" stroke-linecap="round"/>
<path d="M403.9,498.8 C405,494.5 409,493.5 410.5,497 C411,499 411.2,500.5 411.6,501.6 C413,504 414.5,507 416.5,511.5" fill="none" stroke="#231f20" stroke-width="2.3" stroke-linecap="round"/>
<path d="M442.8,550 L449.4,547.2 L453.9,562.2 L453.9,582.2 L448.3,586.7 L440.6,585.6 L438.3,583.3 L442.8,577.8 L448.3,565.6 L449.4,561.1Z" fill="#fff" stroke="#231f20" stroke-width="2.3" stroke-linejoin="round"/>
<path d="M336.6,561 L336.4,576.2 L342.6,577.4 L341.6,563.5Z" fill="#fff" stroke="#231f20" stroke-width="1.8" stroke-linejoin="round"/>
<path d="M345.2,562 L346.2,579.5 L349.2,584 L352.4,583.2 L351.6,563Z" fill="#fff" stroke="#231f20" stroke-width="1.8" stroke-linejoin="round"/>
<path d="M321.8,508.7 L336,512.3 L337.2,527 L335.5,527 L328.4,522 L323.4,517 L323.4,513 Z" fill="#fff"/>
<path d="M321.8,508.7 C322.5,510 323.4,511.5 323.4,513 L323.4,517 L328.4,522 L335.5,527 M333.8,514.5 C335.5,518 336.5,522 337.2,527 L337.4,550.5" fill="none" stroke="#231f20" stroke-width="1.1" stroke-linejoin="round"/>
<path d="M321.8,508.7 C326,509.5 331,511 336,512.3" fill="none" stroke="#231f20" stroke-width="1.9" stroke-linecap="round"/>
<path d="M328,515 C331,515.5 335,517 338.5,520.5 M330.5,513.6 C333.5,514.3 336,515.8 338,518" fill="none" stroke="#231f20" stroke-width="1.1"/>
<path d="M358.3,520.4 C358.5,517 361,514 364.5,512.9 C367.5,511.8 370.5,510 372.8,506.7 C375.5,508 377.5,511 377,513.3 C376.5,517 374,521 371.2,523.8 C369.5,525 368,525.5 366.6,525.8 M362,515.8 C361.8,518 362,520.5 363.5,521.8 C365,523 366.5,521 367.4,518.8 C369,517 372,516 374.5,513.3 C372.5,512.5 371,512.5 369.9,512.1 C371,511 372,510 372.4,509.6" fill="none" stroke="#231f20" stroke-width="1.1" stroke-linecap="round"/>
<path d="M355.5,535 L356.5,532.3 L357.7,535" fill="none" stroke="#231f20" stroke-width="1.1"/>
<path d="M337,553.5 C337,550 341,549.3 344,550 C347,550.5 349,552 349.5,554.5 C349,557.5 345,558.5 341,558 C338.5,557.5 337,556 337,553.5Z" fill="#fff" stroke="#231f20" stroke-width="1.1"/>
<path d="M339.8,554.8 L341.8,555.2 M344.5,555 L346.5,554.2" fill="none" stroke="#c88" stroke-width="0.7"/>
<path d="M481.7,518.3 C482.0,519.2 479.9,522.0 478.9,522.8 C477.9,523.6 475.3,522.8 475.0,523.9 C474.7,525.0 476.6,527.9 476.7,530.0 C476.8,532.1 476.2,535.3 475.6,537.8 C475.0,540.3 473.6,543.7 472.8,546.7 C472.1,549.7 471.3,556.0 470.6,557.8 C469.9,559.6 468.8,557.4 468.3,558.9 C467.8,560.4 467.8,564.0 467.2,567.8 C466.6,571.6 465.1,580.2 464.4,584.4 C463.7,588.6 463.2,593.3 462.8,595.6 C462.4,597.9 462.9,598.7 461.7,600.0 C460.5,601.3 456.5,603.9 455.0,604.4 C453.5,604.9 452.5,604.0 451.7,603.3 C450.9,602.6 449.7,602.2 449.4,600.0 C449.1,597.8 449.4,591.6 450.0,588.9 C450.6,586.2 452.7,585.4 453.3,582.2 C453.9,579.0 454.0,571.6 453.9,567.8 C453.8,564.0 453.5,559.8 452.8,556.7 C452.1,553.6 450.9,548.2 449.4,547.2 C447.9,546.2 446.0,548.7 442.8,550.0 C439.6,551.3 432.3,554.1 428.3,555.6 C424.3,557.1 418.1,559.2 416.1,560.0 C414.1,560.8 416.8,558.1 415.0,561.1 C413.2,564.1 406.2,576.2 403.9,580.0 C401.6,583.8 400.5,584.2 399.4,586.7 C398.3,589.2 397.6,594.1 396.3,596.6 C395.0,599.1 392.3,602.2 390.5,603.4 C388.7,604.6 386.1,605.3 384.6,604.9 C383.1,604.5 381.6,602.0 380.7,600.5 C379.8,599.0 380.3,594.9 378.8,594.6 C377.3,594.3 373.5,597.2 371.0,598.5 C368.5,599.8 365.3,602.8 362.2,603.4 C359.1,604.0 352.7,603.1 350.5,602.4 C348.3,601.7 347.8,600.3 347.6,598.5 C347.4,596.7 348.6,593.6 349.0,590.7 C349.4,587.8 349.7,583.5 350.0,579.0 C350.3,574.5 350.9,563.4 351.0,560.5 C351.1,557.6 351.2,559.1 350.5,559.5 C349.8,559.9 347.4,562.2 346.0,563.0 C344.6,563.8 342.6,564.5 341.5,564.8 C340.4,565.1 339.2,565.5 338.5,565.3 C337.8,565.1 337.0,564.1 337.0,563.5 C337.0,562.9 337.4,562.0 338.2,561.2 C338.9,560.5 340.3,559.5 342.0,558.5 C343.7,557.5 347.9,555.5 349.5,554.6 C351.1,553.7 350.9,553.1 352.4,552.7 C353.9,552.3 358.2,552.0 359.3,551.7 C360.4,551.4 358.2,553.1 360.0,551.0 C361.8,548.9 367.7,541.4 371.0,537.8 C374.3,534.2 378.2,529.4 382.0,526.8 C385.8,524.2 392.1,522.0 396.2,520.2 C400.3,518.4 405.9,516.2 409.4,514.8 C412.9,513.4 415.5,512.0 419.3,510.9 C423.1,509.8 430.0,508.3 434.6,507.6 C439.2,506.9 446.7,506.0 450.0,506.0 C453.3,506.0 454.2,506.9 456.7,507.8 C459.2,508.7 464.2,510.7 466.7,512.2 C469.2,513.7 471.8,517.1 473.3,517.8 C474.8,518.5 475.4,516.6 476.7,516.7 C478.0,516.8 481.4,517.4 481.7,518.3Z" fill="#b3d3e5" stroke="#231f20" stroke-width="2.3" stroke-linejoin="round"/>
<path d="M393.4,569.3 C390,575 387.5,579 385.6,583.9" fill="none" stroke="#231f20" stroke-width="2.2" stroke-linecap="round"/>
<path d="M374.9,566.3 C378,570 381,575 384.6,579 M361.2,585.9 L364.1,589.8 L380.7,583.9" fill="none" stroke="#234" stroke-width="0.8"/>
<path d="M375.4,427.6 L405,529 L433.2,431.1" fill="none" stroke="#a9a9a9" stroke-width="1.1" stroke-dasharray="4,3"/>
<path d="M390.2,408.2 L386.6,416.6 C386,418.5 387.5,420 389.3,419.4 L393.6,410.5" fill="#fff" stroke="#231f20" stroke-width="1.2" stroke-linejoin="round"/>
<ellipse cx="388" cy="418" rx="1.3" ry="1.5" transform="rotate(25 388 418)" fill="#fff" stroke="#231f20" stroke-width="0.9"/>
<path d="M398,386.5 C404,386.3 410,390.5 414,396 C418,402 419.6,410 419.4,417 C419.2,424 416,430.5 408.5,431 C403,431.2 399.6,425.5 398.3,419.5 C397.5,415.5 396,412 392.5,408.5 C389.2,405.5 386.5,401.5 386.4,396.5 C386.3,390.5 391.5,386.7 398,386.5Z" fill="#fff" stroke="#231f20" stroke-width="1.5"/>
<path d="M392.5,406.5 L394.2,413 M394.5,408.5 L396,412 L398,410.8 M395.5,413 C398,412.5 401,413 404.5,414.5 M396,415.5 C399,415.5 402,416.5 405,418" fill="none" stroke="#231f20" stroke-width="0.9"/>
<path d="M418.8,413.3 C414.5,411.5 411.5,415 413.4,418.8" fill="none" stroke="#231f20" stroke-width="1"/>
<circle cx="396.2" cy="390.6" r="1" fill="#231f20"/><circle cx="399.4" cy="390.1" r="0.9" fill="#231f20"/></svg>
</body></html>
